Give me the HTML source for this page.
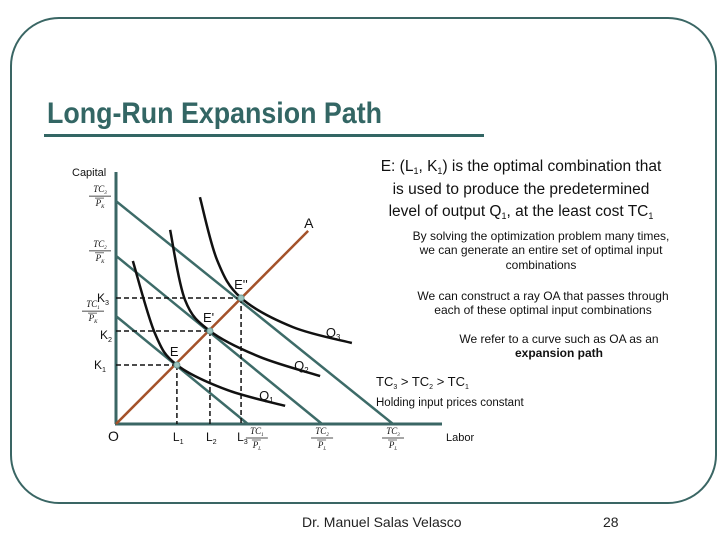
<!DOCTYPE html>
<html><head><meta charset="utf-8"><style>
body{margin:0;background:#fff;width:728px;height:546px;overflow:hidden;font-family:"Liberation Sans",sans-serif}
svg text{font-family:"Liberation Sans",sans-serif}
.serif{font-family:"Liberation Serif",serif;font-style:italic}
</style></head><body>
<svg width="728" height="546" viewBox="0 0 728 546" id="s">
<rect x="11" y="18" width="705" height="485" rx="48" ry="48" fill="none" stroke="#3a6664" stroke-width="2"/>
<text x="47" y="123" font-size="30" font-weight="bold" fill="#336664" textLength="335" lengthAdjust="spacingAndGlyphs">Long-Run Expansion Path</text>
<rect x="44" y="134" width="440" height="3" fill="#336664"/>
<g id="chart"></g>
<g font-size="15.5" fill="#111" text-anchor="middle">
<text x="521" y="171">E: (L<tspan font-size="9" dy="3">1</tspan><tspan dy="-3">, K</tspan><tspan font-size="9" dy="3">1</tspan><tspan dy="-3">) is the optimal combination that</tspan></text>
<text x="521" y="194">is used to produce the predetermined</text>
<text x="521" y="216">level of output Q<tspan font-size="9" dy="3">1</tspan><tspan dy="-3">, at the least cost TC</tspan><tspan font-size="9" dy="3">1</tspan></text>
</g>
<g font-size="12" fill="#111" text-anchor="middle">
<text x="541" y="240">By solving the optimization problem many times,</text>
<text x="541" y="254">we can generate an entire set of optimal input</text>
<text x="541" y="269">combinations</text>
<text x="543" y="300">We can construct a ray OA that passes through</text>
<text x="543" y="314">each of these optimal input combinations</text>
<text x="559" y="343">We refer to a curve such as OA as an</text>
<text x="559" y="357" font-weight="bold">expansion path</text>
</g>
<text x="376" y="386" font-size="13" fill="#111">TC<tspan font-size="7" dy="3">3</tspan><tspan dy="-3"> &gt; TC</tspan><tspan font-size="7" dy="3">2</tspan><tspan dy="-3"> &gt; TC</tspan><tspan font-size="7" dy="3">1</tspan></text>
<text x="376" y="406" font-size="11.5" fill="#111">Holding input prices constant</text>
<text x="302" y="527" font-size="14" fill="#222">Dr. Manuel Salas Velasco</text>
<text x="603" y="527" font-size="14" fill="#222">28</text>
</svg>
<script>
const costLevels=["1","2","3"];
const kIntercepts=[33.3,51.9,68.8];
const lIntercepts=[40.7,63.6,85.5];
const eqLabels=["E","E'","E''"];
const eqL=[18.8,29.0,38.6];
const eqK=[18.2,28.7,38.9];
const kLabels=["K1","K2","K3"];
const lLabels=["L1","L2","L3"];
const isoNames=["Q1","Q2","Q3"];
const isoL=[[5.2,12,18.8,34.3,52.2],[16.7,21.3,29.0,44.4,63],[25.9,31.2,38.6,54.6,72.8]];
const isoK=[[50.3,28,18.2,10.5,5.6],[59.9,38.3,28.7,20.7,14.8],[70,50.6,38.9,29.9,25]];
const rayEnd=[59.3,59.6];

const NS="http://www.w3.org/2000/svg";
const g=document.getElementById('chart');
const X0=116,Y0=424,S=3.24;
const xs=v=>X0+v*S, ys=v=>Y0-v*S;
function mk(t,a,p){const e=document.createElementNS(NS,t);for(const k in a)e.setAttribute(k,a[k]);(p||g).appendChild(e);return e;}
function txt(x,y,s,size,anchor){const e=mk('text',{x:x,y:y,'font-size':size||12,fill:'#111','text-anchor':anchor||'start'});e.textContent=s;return e;}
function sub(x,y,base,n,size){const e=mk('text',{x:x,y:y,'font-size':size,fill:'#111'});e.innerHTML=base+'<tspan font-size="'+(size*0.6)+'" dy="3">'+n+'</tspan>';return e;}
function frac(cx,y,n,s,den){const gg=mk('g',{});
 const t=mk('text',{x:cx,y:y,'font-size':9,'text-anchor':'middle',fill:'#111','class':'serif'},gg);t.innerHTML='TC<tspan font-size="5" dy="2">'+n+'</tspan>';
 mk('line',{x1:cx-11,y1:y+4,x2:cx+11,y2:y+4,stroke:'#111','stroke-width':0.8},gg);
 const b=mk('text',{x:cx,y:y+14,'font-size':9,'text-anchor':'middle',fill:'#111','class':'serif'},gg);b.innerHTML='P<tspan font-size="5" dy="2">'+den+'</tspan>';
 mk('line',{x1:cx-5,y1:y+6,x2:cx+4,y2:y+6,stroke:'#111','stroke-width':0.6},gg);return gg;}
let a=mk('line',{x1:X0,y1:Y0,x2:X0,y2:172,stroke:'#3a6664','stroke-width':3});


a=mk('line',{x1:X0-1,y1:Y0,x2:442,y2:Y0,stroke:'#3a6664','stroke-width':3});


let t=txt(72,176,'Capital',11);


t=txt(446,441,'Labor',11);


t=txt(108,441,'O',14);


for(let i=0;i<costLevels.length;i++){
 const l=mk('line',{x1:xs(0),y1:ys(kIntercepts[i]),x2:xs(lIntercepts[i]),y2:ys(0),stroke:'#3d6b68','stroke-width':2.5});
 
 
 const f1=frac(i==0?93:100,ys(kIntercepts[i])-9,costLevels[i],'','K');
 
 
 const f2=frac(xs(lIntercepts[i])+(i==0?9:0),434,costLevels[i],'','L');
 
 
}
const r=mk('line',{x1:xs(0),y1:ys(0),x2:xs(rayEnd[0]),y2:ys(rayEnd[1]),stroke:'#a4522a','stroke-width':2.5});


t=txt(xs(rayEnd[0])-4,ys(rayEnd[1])-3,'A',14);


for(let i=0;i<isoNames.length;i++){
 const P=isoL[i].map((v,j)=>[xs(v),ys(isoK[i][j])]);
 let d='M'+P[0][0]+','+P[0][1];
 for(let j=0;j<P.length-1;j++){const p0=P[j-1]||P[j],p1=P[j],p2=P[j+1],p3=P[j+2]||p2;
  d+=' C'+(p1[0]+(p2[0]-p0[0])/6)+','+(p1[1]+(p2[1]-p0[1])/6)+' '+(p2[0]-(p3[0]-p1[0])/6)+','+(p2[1]-(p3[1]-p1[1])/6)+' '+p2[0]+','+p2[1];}
 const c=mk('path',{d:d,fill:'none',stroke:'#111','stroke-width':2.5});
 
 
 const n=isoL[i].length-1;
 const q=sub(xs(isoL[i][n])-26,ys(isoK[i][n])-6,'Q',i+1,13);
 
 
}
for(let i=0;i<eqL.length;i++){
 const x=xs(eqL[i]),y=ys(eqK[i]);
 const h=mk('line',{x1:X0,y1:y,x2:x,y2:y,stroke:'#111','stroke-width':1.5,'stroke-dasharray':'5,3'});
 
 
 const v=mk('line',{x1:x,y1:y,x2:x,y2:Y0,stroke:'#111','stroke-width':1.5,'stroke-dasharray':'5,3'});
 
 
 const p=mk('circle',{cx:x,cy:y,r:3,fill:'#9cc3bd',stroke:'#6a9a94'});
 
 
 const e=txt(x-7,y-9,eqLabels[i],13);
 
 
 const k=sub(94+(i==1?6:0)+(i==2?3:0),y+(i==1?8:4),'K',i+1,12);
 
 
 const lt=sub(x-4,441,'L',i+1,12);
 
 
}
</script>
</body></html>
